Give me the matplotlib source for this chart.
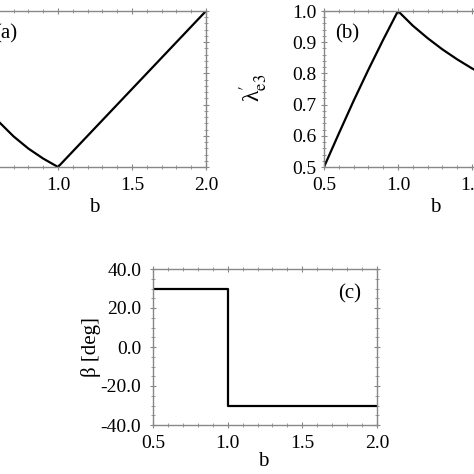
import numpy as np
import matplotlib.pyplot as plt
from matplotlib.ticker import MultipleLocator, FormatStrFormatter

plt.rcParams['font.family'] = ['Liberation Serif', 'DejaVu Serif']
plt.rcParams['mathtext.fontset'] = 'stix'

# (a) values
b_a = [0.5, 0.6, 0.7, 0.8, 0.9, 1.0, 1.25, 1.5, 1.75, 2.0]
lam_a = [0.707, 0.645, 0.598, 0.559, 0.527, 0.5, 0.625, 0.75, 0.875, 1.0]

# (b)
b_b = [0.5, 0.6, 0.7, 0.8, 0.9, 1.0, 1.1, 1.2, 1.3, 1.4, 1.5, 1.6, 1.7, 1.8, 1.9, 2.0]
lam_b = [0.5, 0.607, 0.712, 0.812, 0.908, 1.0, 0.953, 0.913, 0.877, 0.845,
         0.816, 0.791, 0.767, 0.745, 0.725, 0.707]

# (c)
b_c = [0.5, 1.0, 1.0, 2.0]
beta_c = [30.0, 30.0, -30.0, -30.0]

W = H = 474
fig = plt.figure(figsize=(4.74, 4.74), dpi=100)


def box(left, top, w, h):
    return [left / W, (H - top - h) / H, w / W, h / H]


def style(ax, ypad):
    for s in ax.spines.values():
        s.set_color('#888888')
        s.set_linewidth(1.0)
    ax.tick_params(which='both', direction='inout', top=True, right=True,
                   color='#888888', labelsize=14, labelcolor='black')
    ax.tick_params(which='major', length=5, width=0.8)
    ax.tick_params(which='minor', length=3, width=0.6)
    ax.tick_params(axis='x', which='major', pad=5)
    ax.tick_params(axis='y', which='major', pad=ypad)
    ax.xaxis.set_major_locator(MultipleLocator(0.5))
    ax.xaxis.set_minor_locator(MultipleLocator(0.1))
    ax.xaxis.set_major_formatter(FormatStrFormatter('%.1f'))
    ax.set_xlim(0.5, 2.0)
    ax.set_xlabel('b', fontsize=15)


ax1 = fig.add_axes(box(-16, 11, 222, 156))
ax1.plot(b_a, lam_a, color='black', lw=1.6)
style(ax1, 3)
ax1.set_ylim(0.5, 1.0)
ax1.yaxis.set_major_locator(MultipleLocator(0.1))
ax1.yaxis.set_minor_locator(MultipleLocator(0.02))
ax1.yaxis.set_major_formatter(FormatStrFormatter('%.1f'))
ax1.xaxis.set_label_coords(0.495, -0.2)
ax1.text(0.045, 0.853, '(a)', transform=ax1.transAxes, fontsize=15, va='center')

ax2 = fig.add_axes(box(324, 11, 222, 156))
ax2.plot(b_b, lam_b, color='black', lw=1.6)
style(ax2, 3)
ax2.set_ylim(0.5, 1.0)
ax2.yaxis.set_major_locator(MultipleLocator(0.1))
ax2.yaxis.set_minor_locator(MultipleLocator(0.02))
ax2.yaxis.set_major_formatter(FormatStrFormatter('%.1f'))
ax2.set_ylabel("λ$^{\\prime}_{\\rm e3}$", fontsize=17)
ax2.yaxis.set_label_coords(-0.243, 0.51)
ax2.xaxis.set_label_coords(0.5, -0.2)
ax2.text(0.05, 0.853, '(b)', transform=ax2.transAxes, fontsize=15, va='center')

ax3 = fig.add_axes(box(153, 269, 224, 156))
ax3.plot(b_c, beta_c, color='black', lw=1.6)
style(ax3, 6)
ax3.set_ylim(-40, 40)
ax3.yaxis.set_major_locator(MultipleLocator(20))
ax3.yaxis.set_minor_locator(MultipleLocator(5))
ax3.yaxis.set_major_formatter(FormatStrFormatter('%.1f'))
ax3.set_ylabel('β [deg]', fontsize=15)
ax3.yaxis.set_label_coords(-0.232, 0.5)
ax3.xaxis.set_label_coords(0.49, -0.17)
ax3.text(0.826, 0.84, '(c)', transform=ax3.transAxes, fontsize=15, va='center')

fig.savefig('out.png', dpi=100)
